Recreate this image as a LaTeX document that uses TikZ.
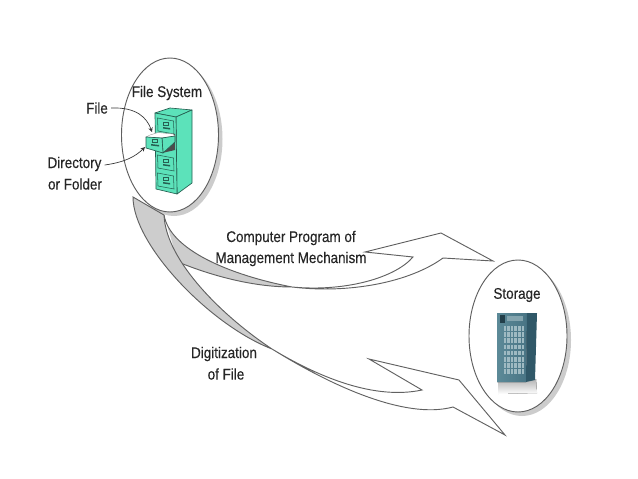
\documentclass[tikz,border=0pt]{standalone}
\usepackage{fontspec}
\setmainfont[FakeStretch=0.87,FakeBold=0.3]{Liberation Sans}
\begin{document}
\begin{tikzpicture}[x=0.75pt,y=-0.75pt]
	\definecolor{cabinet}{RGB}{92,226,186}
	\definecolor{cabline}{RGB}{38,96,82}
	\definecolor{outline}{RGB}{95,95,95}
	\definecolor{ribbon}{RGB}{205,205,205}
	\definecolor{serverfront}{RGB}{72,116,132}
	\definecolor{serverlight}{RGB}{92,138,152}
	\definecolor{serverside}{RGB}{48,88,104}
	\definecolor{servergrid}{RGB}{158,186,194}
	\tikzstyle{label}=[text=black!85,font=\fontsize{11.6}{13}\selectfont,inner sep=0pt]
	\tikzstyle{bubble}=[draw=outline,fill=white,line width=0.7pt]
	\tikzstyle{face}=[draw=cabline,fill=cabinet,line width=0.5pt,line join=round]
	\tikzstyle{pointer}=[draw=black!80,-stealth,line width=0.5pt]
	\tikzstyle{arrowline}=[draw=black!62,line width=0.7pt,line join=miter]

	\useasboundingbox (0,0) rectangle (638,478);

	% bubbles
	\fill[black!20] (174,139) ellipse [x radius=48.5,y radius=77];
	\fill[black!20] (522,340) ellipse [x radius=49,y radius=76];
	\draw[bubble] (170,135) ellipse [x radius=48.5,y radius=77];
	\draw[bubble] (518,336) ellipse [x radius=49,y radius=76];

	% upper arrow
	\fill[ribbon] (164,215) .. controls (170,250) and (230,275) .. (292,287)
		.. controls (255,287) and (215,277) .. (178,262) -- cycle;
	\draw[arrowline] (164,215) .. controls (170,250) and (230,275) .. (292,287)
		.. controls (345,292) and (395,278) .. (413,257)
		-- (365,252) -- (441,233) -- (493,261) -- (443,258)
		.. controls (410,282) and (350,294) .. (292,287)
		.. controls (255,287) and (215,277) .. (178,262);

	% lower arrow
	\fill[ribbon] (133,197) .. controls (133,245) and (210,325) .. (272,349)
		.. controls (225,318) and (166,262) .. (164,215) -- cycle;
	\draw[arrowline] (133,197) .. controls (133,245) and (210,325) .. (272,349)
		.. controls (330,385) and (405,420) .. (453,407)
		-- (505,435) -- (459,380) -- (369,359) -- (422,390)
		.. controls (375,400) and (320,378) .. (272,349)
		.. controls (225,318) and (166,262) .. (164,215) -- cycle;

	% cabinet
	\draw[face] (155,113) -- (170,108) -- (192,110) -- (176,117) -- cycle;
	\draw[face] (176,117) -- (192,110) -- (192,183) -- (177,194) -- cycle;
	\draw[face] (155,113) -- (176,117) -- (177,194) -- (156,189) -- cycle;
	\foreach \dy in {0,37,55} {
		\draw[cabline,line width=0.4pt] (157.5,118+\dy) -- (173.5,121+\dy) -- (174,134+\dy) -- (158,131+\dy) -- cycle;
		\fill[cabline] (163,127+\dy) -- (170,128+\dy) -- (170,129.5+\dy) -- (163,128.5+\dy) -- cycle;
		\draw[cabline,line width=0.3pt] (163,122+\dy) rectangle (168,125+\dy);
	}
	% open drawer
	\fill[black!70] (160,135) -- (175,134) -- (175,150) -- (162,153) -- cycle;
	\fill[white,draw=black!40,line width=0.3pt] (150,135) -- (158,132.5) -- (173,134) -- (175,136) -- (162,138) -- (146,137) -- cycle;
	\draw[face] (162,138) -- (175,136) -- (175,142) -- (163,153) -- cycle;
	\draw[face] (146,137) -- (162,138) -- (163,153) -- (146,148) -- cycle;
	\fill[cabline] (151,144) -- (159,145) -- (159,146.5) -- (151,145.5) -- cycle;
	\draw[cabline,line width=0.3pt] (152,139.5) rectangle (157,142.5);

	% server
	\fill[top color=black!30,bottom color=white] (498,381) -- (536,379) -- (537,393) -- (498,394) -- cycle;
	\fill[left color=serverlight,right color=serverfront] (497,313) -- (527,313) -- (526,382) -- (497,382) -- cycle;
	\fill[serverside] (527,313) -- (537,313) -- (535,380) -- (526,382) -- cycle;
	\fill[serverside!70!black] (500,315) rectangle (505,323);
	\fill[servergrid!70!serverfront] (507,316) rectangle (523,321);
	\foreach \row in {0,...,7} {
		\foreach \col in {0,...,5} {
			\fill[servergrid] (503.5+\col*3.6,326+\row*6.2) rectangle +(2.7,4.6);
		}
	}

	% labels
	\node[label](filesystem) at (167,93){File System};
	\node[label](file) at (97,108){File};
	\node[label](directory) at (74.5,164){Directory};
	\node[label](folder) at (75,184){or Folder};
	\node[label](program) at (291,238){Computer Program of};
	\node[label](mechanism) at (291,259){Management Mechanism};
	\node[label](digitization) at (224,354){Digitization};
	\node[label](offile) at (226,374){of File};
	\node[label](storage) at (517,295){Storage};

	\coordinate(filetip) at (152,132);
	\coordinate(foldertip) at (145,147);
	\draw[pointer] (file.east) ++(3,0) .. controls (137,107) and (147,118) .. (filetip);
	\draw[pointer] (directory.east) ++(3,1) .. controls (127,162) and (137,155) .. (foldertip);
\end{tikzpicture}
\end{document}
